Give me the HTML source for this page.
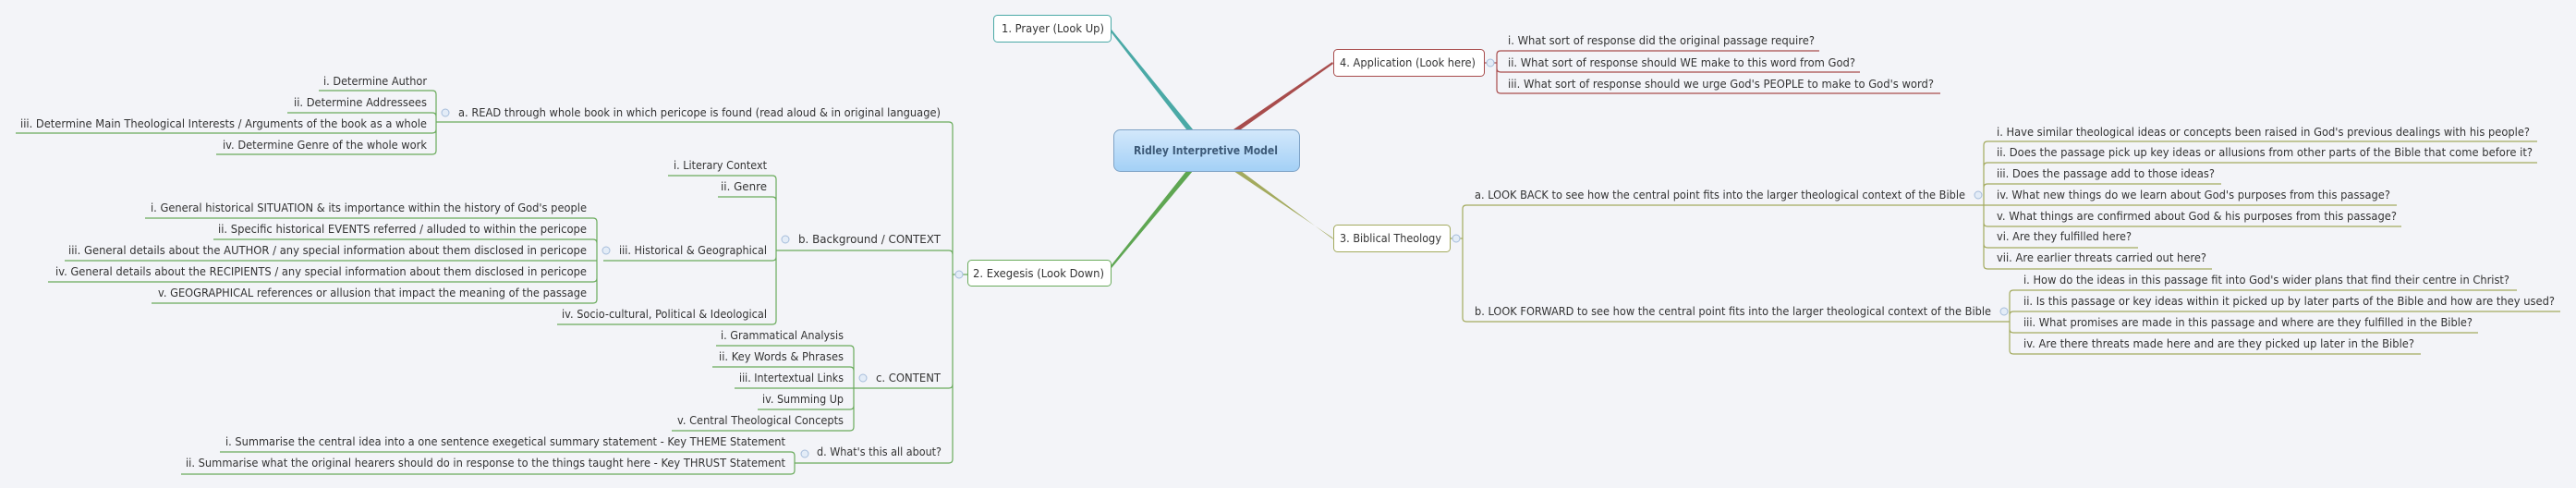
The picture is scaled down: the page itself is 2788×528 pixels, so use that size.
<!DOCTYPE html>
<html><head><meta charset="utf-8"><style>
html,body{margin:0;padding:0;background:#f3f4f8;}
svg{display:block;}
text{font-family:"DejaVu Sans","Liberation Sans",sans-serif;font-size:12px;fill:#333;}
.g{fill:none;stroke:#6aab5c;stroke-width:1.2;}
.r{fill:none;stroke:#a84c4c;stroke-width:1.2;}
.o{fill:none;stroke:#a3aa5e;stroke-width:1.2;}
.c{fill:#e3ecf7;stroke:#a6bddb;stroke-width:1;}
</style></head><body>
<svg width="2788" height="528" viewBox="0 0 2788 528" xmlns="http://www.w3.org/2000/svg">
<defs>
<linearGradient id="cg" x1="0" y1="0" x2="0" y2="1"><stop offset="0" stop-color="#d3e8fb"/><stop offset="1" stop-color="#a3d0f6"/></linearGradient>
</defs>
<!-- main connectors -->
<polygon points="1284,140 1291,140 1203,32 1201,33" fill="#4aa9a6"/>
<polygon points="1335,140 1343,140 1443,69 1442,67" fill="#a84c4c"/>
<polygon points="1284,185 1291,185 1203,290 1201,289" fill="#5ea652"/>
<polygon points="1335,185 1343,185 1443,259 1442,257" fill="#a3aa5e"/>
<!-- boxes -->
<rect x="1075.5" y="16.5" width="127" height="29" rx="4" fill="#fff" stroke="#4aa9a6"/>
<text x="1084" y="35" textLength="111" lengthAdjust="spacingAndGlyphs">1. Prayer (Look Up)</text>
<rect x="1443.5" y="53.5" width="163" height="29" rx="4" fill="#fff" stroke="#a84c4c"/>
<text x="1450" y="72" textLength="147" lengthAdjust="spacingAndGlyphs">4. Application (Look here)</text>
<rect x="1047.5" y="281.5" width="155" height="28" rx="4" fill="#fff" stroke="#6aab5c"/>
<text x="1053" y="300" textLength="142" lengthAdjust="spacingAndGlyphs">2. Exegesis (Look Down)</text>
<rect x="1443.5" y="243.5" width="126" height="29" rx="4" fill="#fff" stroke="#a3aa5e"/>
<text x="1450" y="262" textLength="110" lengthAdjust="spacingAndGlyphs">3. Biblical Theology</text>
<rect x="1205.5" y="140.5" width="201" height="45" rx="7" fill="url(#cg)" stroke="#7fa3c6"/>
<text x="1227" y="167" textLength="156" lengthAdjust="spacingAndGlyphs" style="font-weight:bold;fill:#3d5a78">Ridley Interpretive Model</text>

<!-- LEFT: a -->
<path class="g" d="M345 98H468Q472 98 472 102V132M311 122H468Q472 122 472 126V132M17 144H468Q472 144 472 140V132M234 167H468Q472 167 472 163V132"/>
<path class="g" d="M472 132H1027Q1031 132 1031 136V497Q1031 501 1027 501H860"/>
<!-- b -->
<path class="g" d="M723 190H836Q840 190 840 194V271M777 213H836Q840 213 840 217V271M603 351H836Q840 351 840 347V271M653 282H836Q840 282 840 278V271M840 271H1027Q1031 271 1031 275"/>
<!-- iii -->
<path class="g" d="M157 236H642Q646 236 646 240V282M231 259H642Q646 259 646 263V282M70 282H646M52 305H642Q646 305 646 301V282M164 328H642Q646 328 646 324V282"/>
<!-- c -->
<path class="g" d="M775 374H920Q924 374 924 378V420M771 397H920Q924 397 924 401V420M795 420H924M820 443H920Q924 443 924 439V420M727 466H920Q924 466 924 462V420M924 420H1027Q1031 420 1031 416"/>
<!-- d -->
<path class="g" d="M238 489H856Q860 489 860 493V501M196 513H856Q860 513 860 509V501"/>
<path class="g" d="M1031 297H1047"/>

<!-- RIGHT: application -->
<path class="r" d="M1606 68H1620M1969 55H1624Q1620 55 1620 59V68M2013 78H1624Q1620 78 1620 74V68M2100 101H1624Q1620 101 1620 97V68"/>
<!-- biblical theology -->
<path class="o" d="M1569 258H1583M2147 222H1587Q1583 222 1583 226V258M2175 348H1587Q1583 348 1583 344V258"/>
<path class="o" d="M2746 153H2151Q2147 153 2147 157V222M2746 176H2151Q2147 176 2147 180V222M2404 199H2151Q2147 199 2147 203V222M2594 222H2147M2599 245H2151Q2147 245 2147 241V222M2314 268H2151Q2147 268 2147 264V222M2394 291H2151Q2147 291 2147 287V222"/>
<path class="o" d="M2724 314H2179Q2175 314 2175 318V348M2771 337H2179Q2175 337 2175 341V348M2682 360H2179Q2175 360 2175 356V348M2620 383H2179Q2175 383 2175 379V348"/>

<!-- collapse circles -->
<g>
<circle class="c" cx="482" cy="122" r="4"/><circle class="c" cx="850" cy="259" r="4"/><circle class="c" cx="656" cy="271" r="4"/><circle class="c" cx="934" cy="409" r="4"/><circle class="c" cx="871" cy="491" r="4"/><circle class="c" cx="1038" cy="297" r="4"/><circle class="c" cx="1613" cy="68" r="4"/><circle class="c" cx="1576" cy="258" r="4"/><circle class="c" cx="2141" cy="211" r="4"/><circle class="c" cx="2169" cy="337" r="4"/>
</g>

<!-- left texts -->
<g text-anchor="end">
<text x="462" y="92" textLength="112" lengthAdjust="spacingAndGlyphs">i. Determine Author</text>
<text x="462" y="115" textLength="144" lengthAdjust="spacingAndGlyphs">ii. Determine Addressees</text>
<text x="462" y="138" textLength="440" lengthAdjust="spacingAndGlyphs">iii. Determine Main Theological Interests / Arguments of the book as a whole</text>
<text x="462" y="161" textLength="221" lengthAdjust="spacingAndGlyphs">iv. Determine Genre of the whole work</text>
<text x="830" y="183" textLength="101" lengthAdjust="spacingAndGlyphs">i. Literary Context</text>
<text x="830" y="206" textLength="50" lengthAdjust="spacingAndGlyphs">ii. Genre</text>
<text x="830" y="275" textLength="160" lengthAdjust="spacingAndGlyphs">iii. Historical &amp; Geographical</text>
<text x="830" y="344" textLength="222" lengthAdjust="spacingAndGlyphs">iv. Socio-cultural, Political &amp; Ideological</text>
<text x="635" y="229" textLength="472" lengthAdjust="spacingAndGlyphs">i. General historical SITUATION &amp; its importance within the history of God's people</text>
<text x="635" y="252" textLength="399" lengthAdjust="spacingAndGlyphs">ii. Specific historical EVENTS referred / alluded to within the pericope</text>
<text x="635" y="275" textLength="561" lengthAdjust="spacingAndGlyphs">iii. General details about the AUTHOR / any special information about them disclosed in pericope</text>
<text x="635" y="298" textLength="575" lengthAdjust="spacingAndGlyphs">iv. General details about the RECIPIENTS / any special information about them disclosed in pericope</text>
<text x="635" y="321" textLength="464" lengthAdjust="spacingAndGlyphs">v. GEOGRAPHICAL references or allusion that impact the meaning of the passage</text>
<text x="913" y="367" textLength="133" lengthAdjust="spacingAndGlyphs">i. Grammatical Analysis</text>
<text x="913" y="390" textLength="135" lengthAdjust="spacingAndGlyphs">ii. Key Words &amp; Phrases</text>
<text x="913" y="413" textLength="113" lengthAdjust="spacingAndGlyphs">iii. Intertextual Links</text>
<text x="913" y="436" textLength="88" lengthAdjust="spacingAndGlyphs">iv. Summing Up</text>
<text x="913" y="459" textLength="180" lengthAdjust="spacingAndGlyphs">v. Central Theological Concepts</text>
<text x="850" y="482" textLength="606" lengthAdjust="spacingAndGlyphs">i. Summarise the central idea into a one sentence exegetical summary statement - Key THEME Statement</text>
<text x="850" y="505" textLength="649" lengthAdjust="spacingAndGlyphs">ii. Summarise what the original hearers should do in response to the things taught here - Key THRUST Statement</text>
</g>
<text x="496" y="126" textLength="522" lengthAdjust="spacingAndGlyphs">a. READ through whole book in which pericope is found (read aloud &amp; in original language)</text>
<text x="864" y="263" textLength="154" lengthAdjust="spacingAndGlyphs">b. Background / CONTEXT</text>
<text x="948" y="413" textLength="70" lengthAdjust="spacingAndGlyphs">c. CONTENT</text>
<text x="884" y="493" textLength="135" lengthAdjust="spacingAndGlyphs">d. What's this all about?</text>

<!-- right texts -->
<text x="1632" y="48" textLength="332" lengthAdjust="spacingAndGlyphs">i. What sort of response did the original passage require?</text>
<text x="1632" y="72" textLength="376" lengthAdjust="spacingAndGlyphs">ii. What sort of response should WE make to this word from God?</text>
<text x="1632" y="95" textLength="461" lengthAdjust="spacingAndGlyphs">iii. What sort of response should we urge God's PEOPLE to make to God's word?</text>
<text x="1596" y="215" textLength="531" lengthAdjust="spacingAndGlyphs">a. LOOK BACK to see how the central point fits into the larger theological context of the Bible</text>
<text x="1596" y="341" textLength="559" lengthAdjust="spacingAndGlyphs">b. LOOK FORWARD to see how the central point fits into the larger theological context of the Bible</text>
<text x="2161" y="147" textLength="577" lengthAdjust="spacingAndGlyphs">i. Have similar theological ideas or concepts been raised in God's previous dealings with his people?</text>
<text x="2161" y="169" textLength="580" lengthAdjust="spacingAndGlyphs">ii. Does the passage pick up key ideas or allusions from other parts of the Bible that come before it?</text>
<text x="2161" y="192" textLength="236" lengthAdjust="spacingAndGlyphs">iii. Does the passage add to those ideas?</text>
<text x="2161" y="215" textLength="426" lengthAdjust="spacingAndGlyphs">iv. What new things do we learn about God's purposes from this passage?</text>
<text x="2161" y="238" textLength="433" lengthAdjust="spacingAndGlyphs">v. What things are confirmed about God &amp; his purposes from this passage?</text>
<text x="2161" y="260" textLength="146" lengthAdjust="spacingAndGlyphs">vi. Are they fulfilled here?</text>
<text x="2161" y="283" textLength="227" lengthAdjust="spacingAndGlyphs">vii. Are earlier threats carried out here?</text>
<text x="2190" y="307" textLength="526" lengthAdjust="spacingAndGlyphs">i. How do the ideas in this passage fit into God's wider plans that find their centre in Christ?</text>
<text x="2190" y="330" textLength="575" lengthAdjust="spacingAndGlyphs">ii. Is this passage or key ideas within it picked up by later parts of the Bible and how are they used?</text>
<text x="2190" y="353" textLength="486" lengthAdjust="spacingAndGlyphs">iii. What promises are made in this passage and where are they fulfilled in the Bible?</text>
<text x="2190" y="376" textLength="423" lengthAdjust="spacingAndGlyphs">iv. Are there threats made here and are they picked up later in the Bible?</text>
</svg>
</body></html>
